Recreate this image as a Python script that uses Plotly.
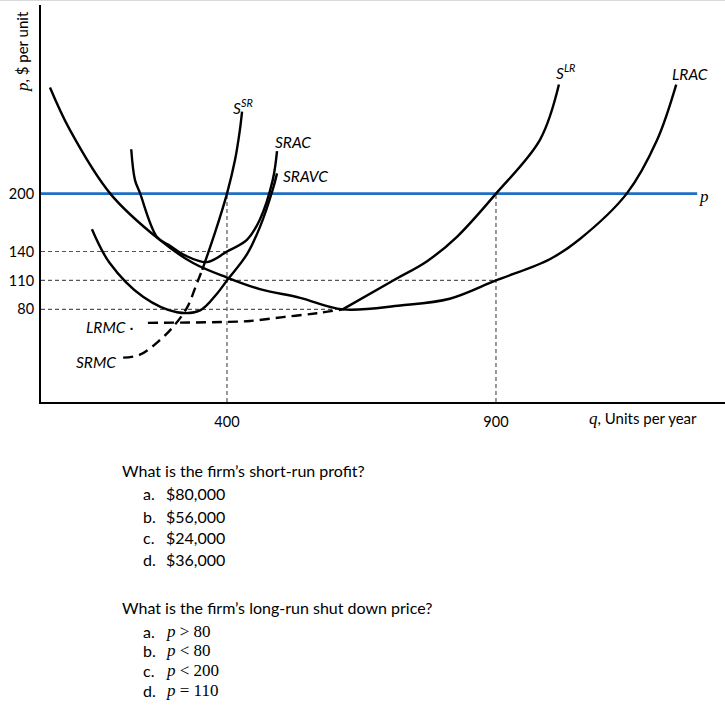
import plotly.graph_objects as go

# ---------------- data (q = units per year, p = $ per unit) ----------------
q_lrac = [71, 108, 183, 275, 337, 400, 461, 536, 615, 722, 814, 900, 1000, 1056, 1143, 1199, 1235]
p_lrac = [310, 266, 200, 152, 128, 113, 101, 92, 80, 84, 91, 110, 132, 153, 200, 255, 313]

q_srac = [222, 229, 238, 270, 294, 322, 363, 400, 437, 461, 485, 493]
p_srac = [246, 214, 201, 155, 146, 136, 129, 140, 152, 173, 214, 244]

q_sravc = [149, 182, 244, 307, 350, 381, 400, 437, 461, 485, 493]
p_sravc = [163, 128, 93, 77, 79, 96, 110, 137, 165, 204, 221]

q_srmc_dash = [207, 238, 275, 300, 326, 344, 354]
p_srmc_dash = [30, 33, 48, 62, 82, 107, 121]
q_ssr = [354, 378, 400, 415, 424, 428]
p_ssr = [121, 160, 200, 235, 266, 285]

q_lrmc_dash = [253, 400, 443, 504, 567, 615]
p_lrmc_dash = [66, 67, 68, 72, 76, 80]
q_slr = [615, 709, 772, 827, 900, 982, 1017]
p_slr = [80, 110, 130, 155, 200, 256, 313]

price = 200
price_line_end = 1274
q_marks = [400, 900]
p_marks = [140, 110, 80]
p_mark_ends = [400, 900, 615]

y_tick_vals = [200, 140, 110, 80]
y_tick_text = ["200", "140", "110", "80"]
x_tick_vals = [400, 900]
x_tick_text = ["400", "900"]

x_range = [54.3, 1325.7]
y_range = [-16, 395.5]

# ---------------- figure ----------------
W, H = 725, 706
ML, MR, MT, MB = 41, 0, 5, 304
PW, PH = W - ML - MR, H - MT - MB


def paper(px, py):
    return (px - ML) / PW, (H - MB - py) / PH


TXT = "Lato"
fig = go.Figure()

# guide dashed lines
for pv, qe in zip(p_marks, p_mark_ends):
    fig.add_trace(go.Scatter(x=[x_range[0], qe], y=[pv, pv], mode="lines",
                             line=dict(color="#555555", width=1.2, dash="4px,3px"),
                             hoverinfo="skip", showlegend=False))
for qv in q_marks:
    fig.add_trace(go.Scatter(x=[qv, qv], y=[y_range[0], price], mode="lines",
                             line=dict(color="#555555", width=1.2, dash="4px,3px"),
                             hoverinfo="skip", showlegend=False))

# price line
fig.add_trace(go.Scatter(x=[x_range[0], price_line_end], y=[price, price], mode="lines",
                         line=dict(color="#1f6fc4", width=2.6), showlegend=False))

solid = dict(color="black", width=2.4, shape="spline", smoothing=1.0)
dashed = dict(color="black", width=2.4, shape="spline", smoothing=1.0, dash="10px,6px")

for qs, ps, ln in [
    (q_lrac, p_lrac, solid),
    (q_srac, p_srac, solid),
    (q_sravc, p_sravc, solid),
    (q_ssr, p_ssr, solid),
    (q_slr, p_slr, solid),
    (q_srmc_dash, p_srmc_dash, dashed),
    (q_lrmc_dash, p_lrmc_dash, dashed),
]:
    fig.add_trace(go.Scatter(x=qs, y=ps, mode="lines", line=ln, showlegend=False,
                             cliponaxis=False))

lab_font = dict(family=TXT, size=15.5, color="black")
labels = [
    (430, 290, "<i>S<sup>SR</sup></i>", "center"),
    (485, 254, "<i>SRAC</i>", "left"),
    (500, 218, "<i>SRAVC</i>", "left"),
    (229, 62, "<i>LRMC</i> ·", "right"),
    (198, 25, "<i>SRMC</i>", "right"),
    (1030, 327, "<i>S<sup>LR</sup></i>", "center"),
    (1261, 324, "<i>LRAC</i>", "center"),
]
for qx, py, t, xa in labels:
    fig.add_annotation(x=qx, y=py, text=t, showarrow=False, xanchor=xa, yanchor="middle",
                       font=lab_font)
fig.add_annotation(x=1287, y=197, text="<i>p</i>", showarrow=False, xanchor="center",
                   yanchor="middle", font=dict(family="Liberation Serif", size=17, color="black"))

# axis titles
ax, ay = paper(699, 418)
fig.add_annotation(x=ax, y=ay, xref="paper", yref="paper", xanchor="right", yanchor="middle",
                   showarrow=False,
                   text="<span style='font-family:Liberation Serif;font-size:17px'><i>q</i></span>, Units per year",
                   font=dict(family=TXT, size=15, color="black"))
ax, ay = paper(22, 52)
fig.add_annotation(x=ax, y=ay, xref="paper", yref="paper", xanchor="center", yanchor="middle",
                   showarrow=False, textangle=-90,
                   text="<span style='font-family:Liberation Serif;font-size:17px'><i>p</i></span>, $ per unit",
                   font=dict(family=TXT, size=15, color="black"))

# questions
q_font = dict(family=TXT, size=16, color="black")
m_font = dict(family="Liberation Serif", size=17, color="black")
question1 = "What is the firm’s short-run profit?"
answers1 = ["$80,000", "$56,000", "$24,000", "$36,000"]
question2 = "What is the firm’s long-run shut down price?"
answers2 = ["<i>p</i> &gt; 80", "<i>p</i> &lt; 80", "<i>p</i> &lt; 200", "<i>p</i> = 110"]
letters = ["a.", "b.", "c.", "d."]

blocks = [
    (470, [494, 516, 537, 559], question1, answers1, q_font),
    (607, [631, 650, 670, 690], question2, answers2, m_font),
]
for qy, ays, qtext, answers, afont in blocks:
    xq, yq = paper(120, qy)
    fig.add_annotation(x=xq, y=yq, xref="paper", yref="paper", xanchor="left", yanchor="middle",
                       showarrow=False, text=qtext, font=q_font)
    for yy, let, ans in zip(ays, letters, answers):
        xl, yl = paper(141, yy)
        fig.add_annotation(x=xl, y=yl, xref="paper", yref="paper", xanchor="left",
                           yanchor="middle", showarrow=False, text=let, font=q_font)
        xa2, ya2 = paper(164, yy)
        fig.add_annotation(x=xa2, y=ya2, xref="paper", yref="paper", xanchor="left",
                           yanchor="middle", showarrow=False, text=ans, font=afont)

# thin gray border at the very top
fig.add_shape(type="line", xref="paper", yref="paper", x0=-ML / PW, x1=1, y0=(H - MB - 0.5) / PH,
              y1=(H - MB - 0.5) / PH, line=dict(color="#d9d9d9", width=1))

fig.update_layout(
    width=W, height=H, margin=dict(l=ML, r=MR, t=MT, b=MB, pad=0),
    plot_bgcolor="white", paper_bgcolor="white", showlegend=False,
    xaxis=dict(range=x_range, showgrid=False, zeroline=False, showline=True, linecolor="black",
               linewidth=2, tickvals=x_tick_vals, ticktext=x_tick_text, ticks="",
               tickfont=dict(family=TXT, size=14.5, color="black"), ticklabelstandoff=6,
               fixedrange=True),
    yaxis=dict(range=y_range, showgrid=False, zeroline=False, showline=True, linecolor="black",
               linewidth=2, tickvals=y_tick_vals, ticktext=y_tick_text, ticks="",
               tickfont=dict(family=TXT, size=14.5, color="black"), ticklabelstandoff=2,
               fixedrange=True),
)

fig.write_html("out.html", config={"displayModeBar": False},
               post_script="document.body.style.margin='0px';document.body.style.overflow='hidden';")
